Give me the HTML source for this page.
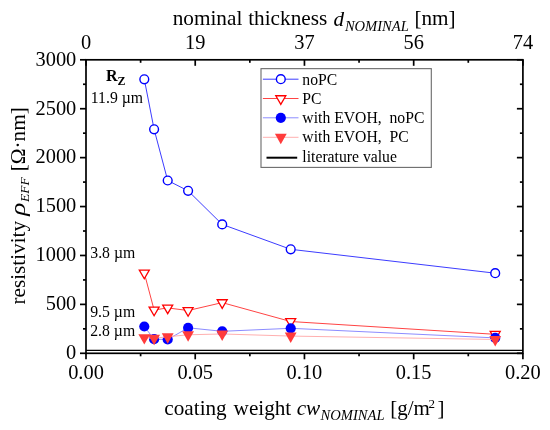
<!DOCTYPE html>
<html><head><meta charset="utf-8"><style>
html,body{margin:0;padding:0;background:#fff;}
svg{display:block;will-change:transform;}
text{font-family:"Liberation Serif",serif;fill:#000;white-space:pre;}
</style></head><body>
<svg width="550" height="430" viewBox="0 0 550 430">
<rect width="550" height="430" fill="#fff"/>
<line x1="86.0" y1="350.3" x2="522.9" y2="350.3" stroke="#000" stroke-width="1.2"/>
<polyline points="144.30,79.30 154.10,129.30 167.70,180.50 188.10,190.80 222.20,224.40 290.70,249.30 495.20,273.20" fill="none" stroke="#3c3cff" stroke-width="1.0"/>
<circle cx="144.3" cy="79.3" r="4.4" fill="#fff" stroke="#0000ff" stroke-width="1.4"/>
<circle cx="154.1" cy="129.3" r="4.4" fill="#fff" stroke="#0000ff" stroke-width="1.4"/>
<circle cx="167.7" cy="180.5" r="4.4" fill="#fff" stroke="#0000ff" stroke-width="1.4"/>
<circle cx="188.1" cy="190.8" r="4.4" fill="#fff" stroke="#0000ff" stroke-width="1.4"/>
<circle cx="222.2" cy="224.4" r="4.4" fill="#fff" stroke="#0000ff" stroke-width="1.4"/>
<circle cx="290.7" cy="249.3" r="4.4" fill="#fff" stroke="#0000ff" stroke-width="1.4"/>
<circle cx="495.2" cy="273.2" r="4.4" fill="#fff" stroke="#0000ff" stroke-width="1.4"/>
<polyline points="144.30,273.02 154.10,310.02 167.70,307.92 188.10,310.52 222.20,302.62 290.70,321.52 495.20,334.32" fill="none" stroke="#ff4444" stroke-width="1.0"/>
<path d="M139.30,270.15H149.30L144.30,278.75Z" fill="#fff" stroke="#ff0000" stroke-width="1.3"/>
<path d="M149.10,307.15H159.10L154.10,315.75Z" fill="#fff" stroke="#ff0000" stroke-width="1.3"/>
<path d="M162.70,305.05H172.70L167.70,313.65Z" fill="#fff" stroke="#ff0000" stroke-width="1.3"/>
<path d="M183.10,307.65H193.10L188.10,316.25Z" fill="#fff" stroke="#ff0000" stroke-width="1.3"/>
<path d="M217.20,299.75H227.20L222.20,308.35Z" fill="#fff" stroke="#ff0000" stroke-width="1.3"/>
<path d="M285.70,318.65H295.70L290.70,327.25Z" fill="#fff" stroke="#ff0000" stroke-width="1.3"/>
<path d="M490.20,331.45H500.20L495.20,340.05Z" fill="#fff" stroke="#ff0000" stroke-width="1.3"/>
<polyline points="144.30,326.50 154.10,339.20 167.70,339.50 188.10,327.80 222.20,331.30 290.70,328.30 495.20,337.90" fill="none" stroke="#8c8cff" stroke-width="1.0"/>
<circle cx="144.3" cy="326.5" r="5.1" fill="#0000ff"/>
<circle cx="154.1" cy="339.2" r="5.1" fill="#0000ff"/>
<circle cx="167.7" cy="339.5" r="5.1" fill="#0000ff"/>
<circle cx="188.1" cy="327.8" r="5.1" fill="#0000ff"/>
<circle cx="222.2" cy="331.3" r="5.1" fill="#0000ff"/>
<circle cx="290.7" cy="328.3" r="5.1" fill="#0000ff"/>
<circle cx="495.2" cy="337.9" r="5.1" fill="#0000ff"/>
<polyline points="144.30,337.67 154.10,338.27 167.70,336.77 188.10,334.77 222.20,333.97 290.70,336.07 495.20,339.47" fill="none" stroke="#ffb0b0" stroke-width="1.0"/>
<path d="M138.40,334.20H150.20L144.30,344.60Z" fill="#ff3b3b"/>
<path d="M148.20,334.80H160.00L154.10,345.20Z" fill="#ff3b3b"/>
<path d="M161.80,333.30H173.60L167.70,343.70Z" fill="#ff3b3b"/>
<path d="M182.20,331.30H194.00L188.10,341.70Z" fill="#ff3b3b"/>
<path d="M216.30,330.50H228.10L222.20,340.90Z" fill="#ff3b3b"/>
<path d="M284.80,332.60H296.60L290.70,343.00Z" fill="#ff3b3b"/>
<path d="M489.30,336.00H501.10L495.20,346.40Z" fill="#ff3b3b"/>
<rect x="86.0" y="59.8" width="436.90" height="293.50" fill="none" stroke="#000" stroke-width="1.7"/>
<line x1="80.0" y1="353.30" x2="86.0" y2="353.30" stroke="#000" stroke-width="1.7"/>
<line x1="522.9" y1="353.30" x2="516.9" y2="353.30" stroke="#000" stroke-width="1.7"/>
<line x1="83.0" y1="328.84" x2="86.0" y2="328.84" stroke="#000" stroke-width="1.7"/>
<line x1="522.9" y1="328.84" x2="519.9" y2="328.84" stroke="#000" stroke-width="1.7"/>
<line x1="80.0" y1="304.38" x2="86.0" y2="304.38" stroke="#000" stroke-width="1.7"/>
<line x1="522.9" y1="304.38" x2="516.9" y2="304.38" stroke="#000" stroke-width="1.7"/>
<line x1="83.0" y1="279.93" x2="86.0" y2="279.93" stroke="#000" stroke-width="1.7"/>
<line x1="522.9" y1="279.93" x2="519.9" y2="279.93" stroke="#000" stroke-width="1.7"/>
<line x1="80.0" y1="255.47" x2="86.0" y2="255.47" stroke="#000" stroke-width="1.7"/>
<line x1="522.9" y1="255.47" x2="516.9" y2="255.47" stroke="#000" stroke-width="1.7"/>
<line x1="83.0" y1="231.01" x2="86.0" y2="231.01" stroke="#000" stroke-width="1.7"/>
<line x1="522.9" y1="231.01" x2="519.9" y2="231.01" stroke="#000" stroke-width="1.7"/>
<line x1="80.0" y1="206.55" x2="86.0" y2="206.55" stroke="#000" stroke-width="1.7"/>
<line x1="522.9" y1="206.55" x2="516.9" y2="206.55" stroke="#000" stroke-width="1.7"/>
<line x1="83.0" y1="182.09" x2="86.0" y2="182.09" stroke="#000" stroke-width="1.7"/>
<line x1="522.9" y1="182.09" x2="519.9" y2="182.09" stroke="#000" stroke-width="1.7"/>
<line x1="80.0" y1="157.63" x2="86.0" y2="157.63" stroke="#000" stroke-width="1.7"/>
<line x1="522.9" y1="157.63" x2="516.9" y2="157.63" stroke="#000" stroke-width="1.7"/>
<line x1="83.0" y1="133.18" x2="86.0" y2="133.18" stroke="#000" stroke-width="1.7"/>
<line x1="522.9" y1="133.18" x2="519.9" y2="133.18" stroke="#000" stroke-width="1.7"/>
<line x1="80.0" y1="108.72" x2="86.0" y2="108.72" stroke="#000" stroke-width="1.7"/>
<line x1="522.9" y1="108.72" x2="516.9" y2="108.72" stroke="#000" stroke-width="1.7"/>
<line x1="83.0" y1="84.26" x2="86.0" y2="84.26" stroke="#000" stroke-width="1.7"/>
<line x1="522.9" y1="84.26" x2="519.9" y2="84.26" stroke="#000" stroke-width="1.7"/>
<line x1="80.0" y1="59.80" x2="86.0" y2="59.80" stroke="#000" stroke-width="1.7"/>
<line x1="522.9" y1="59.80" x2="516.9" y2="59.80" stroke="#000" stroke-width="1.7"/>
<line x1="86.00" y1="353.3" x2="86.00" y2="359.3" stroke="#000" stroke-width="1.7"/>
<line x1="86.00" y1="59.8" x2="86.00" y2="65.8" stroke="#000" stroke-width="1.7"/>
<line x1="140.61" y1="353.3" x2="140.61" y2="356.3" stroke="#000" stroke-width="1.7"/>
<line x1="140.61" y1="59.8" x2="140.61" y2="62.8" stroke="#000" stroke-width="1.7"/>
<line x1="195.22" y1="353.3" x2="195.22" y2="359.3" stroke="#000" stroke-width="1.7"/>
<line x1="195.22" y1="59.8" x2="195.22" y2="65.8" stroke="#000" stroke-width="1.7"/>
<line x1="249.84" y1="353.3" x2="249.84" y2="356.3" stroke="#000" stroke-width="1.7"/>
<line x1="249.84" y1="59.8" x2="249.84" y2="62.8" stroke="#000" stroke-width="1.7"/>
<line x1="304.45" y1="353.3" x2="304.45" y2="359.3" stroke="#000" stroke-width="1.7"/>
<line x1="304.45" y1="59.8" x2="304.45" y2="65.8" stroke="#000" stroke-width="1.7"/>
<line x1="359.06" y1="353.3" x2="359.06" y2="356.3" stroke="#000" stroke-width="1.7"/>
<line x1="359.06" y1="59.8" x2="359.06" y2="62.8" stroke="#000" stroke-width="1.7"/>
<line x1="413.68" y1="353.3" x2="413.68" y2="359.3" stroke="#000" stroke-width="1.7"/>
<line x1="413.68" y1="59.8" x2="413.68" y2="65.8" stroke="#000" stroke-width="1.7"/>
<line x1="468.29" y1="353.3" x2="468.29" y2="356.3" stroke="#000" stroke-width="1.7"/>
<line x1="468.29" y1="59.8" x2="468.29" y2="62.8" stroke="#000" stroke-width="1.7"/>
<line x1="522.90" y1="353.3" x2="522.90" y2="359.3" stroke="#000" stroke-width="1.7"/>
<line x1="522.90" y1="59.8" x2="522.90" y2="65.8" stroke="#000" stroke-width="1.7"/>
<rect x="261" y="68.65" width="170.3" height="98.75" fill="#fff" stroke="#6a6a6a" stroke-width="1.1"/>
<line x1="262.9" y1="79.2" x2="298.5" y2="79.2" stroke="#3c3cff" stroke-width="1"/>
<circle cx="280.8" cy="79.2" r="4.4" fill="#fff" stroke="#0000ff" stroke-width="1.4"/>
<line x1="262.9" y1="98.5" x2="298.5" y2="98.5" stroke="#ff4444" stroke-width="1"/>
<path d="M275.80,95.75H285.80L280.80,104.35Z" fill="#fff" stroke="#ff0000" stroke-width="1.3"/>
<line x1="262.9" y1="117.8" x2="298.5" y2="117.8" stroke="#8c8cff" stroke-width="1"/>
<circle cx="280.8" cy="117.8" r="5.1" fill="#0000ff"/>
<line x1="262.9" y1="137.3" x2="298.5" y2="137.3" stroke="#ffb0b0" stroke-width="1"/>
<path d="M274.90,133.80H286.70L280.80,144.20Z" fill="#ff3b3b"/>
<line x1="266.5" y1="157.7" x2="297.2" y2="157.7" stroke="#000" stroke-width="2"/>
<text x="302.35" y="84.7" font-size="15.7" >noPC</text>
<text x="302.35" y="103.7" font-size="15.7" >PC</text>
<text x="302.35" y="123.0" font-size="15.7" >with EVOH,&#160; noPC</text>
<text x="302.35" y="142.4" font-size="15.7" >with EVOH,&#160; PC</text>
<text x="302.35" y="161.6" font-size="15.7" >literature value</text>
<text x="76.3" y="359.10" text-anchor="end" font-size="20.4">0</text>
<text x="76.3" y="310.18" text-anchor="end" font-size="20.4">500</text>
<text x="76.3" y="261.27" text-anchor="end" font-size="20.4">1000</text>
<text x="76.3" y="212.35" text-anchor="end" font-size="20.4">1500</text>
<text x="76.3" y="163.43" text-anchor="end" font-size="20.4">2000</text>
<text x="76.3" y="114.52" text-anchor="end" font-size="20.4">2500</text>
<text x="76.3" y="65.60" text-anchor="end" font-size="20.4">3000</text>
<text x="86.00" y="379.1" text-anchor="middle" font-size="20.4">0.00</text>
<text x="195.22" y="379.1" text-anchor="middle" font-size="20.4">0.05</text>
<text x="304.45" y="379.1" text-anchor="middle" font-size="20.4">0.10</text>
<text x="413.68" y="379.1" text-anchor="middle" font-size="20.4">0.15</text>
<text x="522.90" y="379.1" text-anchor="middle" font-size="20.4">0.20</text>
<text x="86.00" y="49.1" text-anchor="middle" font-size="20.4">0</text>
<text x="195.22" y="49.1" text-anchor="middle" font-size="20.4">19</text>
<text x="304.45" y="49.1" text-anchor="middle" font-size="20.4">37</text>
<text x="413.68" y="49.1" text-anchor="middle" font-size="20.4">56</text>
<text x="522.90" y="49.1" text-anchor="middle" font-size="20.4">74</text>
<text x="164.35" y="415.1" font-size="21.2" >coating</text>
<text x="233.6" y="415.1" font-size="21.2" >weight</text>
<text x="296.65" y="415.1" font-size="21.2" font-style="italic">cw</text>
<text x="320.6" y="420.3" font-size="14.57" font-style="italic">NOMINAL</text>
<text x="390.2" y="415.1" font-size="21.0" >[g/m</text>
<text x="428.6" y="407.8" font-size="13.0" >2</text>
<text x="437.6" y="415.1" font-size="21.0" >]</text>
<text x="172.7" y="25.4" font-size="21.25" >nominal</text>
<text x="248.2" y="25.4" font-size="21.25" >thickness</text>
<text x="333.6" y="25.6" font-size="21.2" font-style="italic">d</text>
<text x="344.9" y="31.3" font-size="14.57" font-style="italic">NOMINAL</text>
<text x="414.4" y="25.4" font-size="21.2" >[nm]</text>
<text transform="translate(25.0,304.5) rotate(-90)" font-size="21.2" >resistivity</text>
<text transform="translate(25.0,215.8) rotate(-90) scale(1.3,1)" font-size="21" font-style="italic">ρ</text>
<text transform="translate(29.2,202.0) rotate(-90)" font-size="13.5" font-style="italic">EFF</text>
<text transform="translate(25.0,171.3) rotate(-90)" font-size="21.2" >[Ω·nm]</text>
<text x="106.1" y="80.7" font-size="16.0" font-weight="bold">R</text>
<text x="117.4" y="84.6" font-size="12.0" font-weight="bold">Z</text>
<text x="90.8" y="102.9" font-size="15.75" >11.9 µm</text>
<text x="90.25" y="258.2" font-size="15.75" >3.8 µm</text>
<text x="90.2" y="316.8" font-size="15.75" >9.5 µm</text>
<text x="90.2" y="335.9" font-size="15.75" >2.8 µm</text>
</svg>
</body></html>
